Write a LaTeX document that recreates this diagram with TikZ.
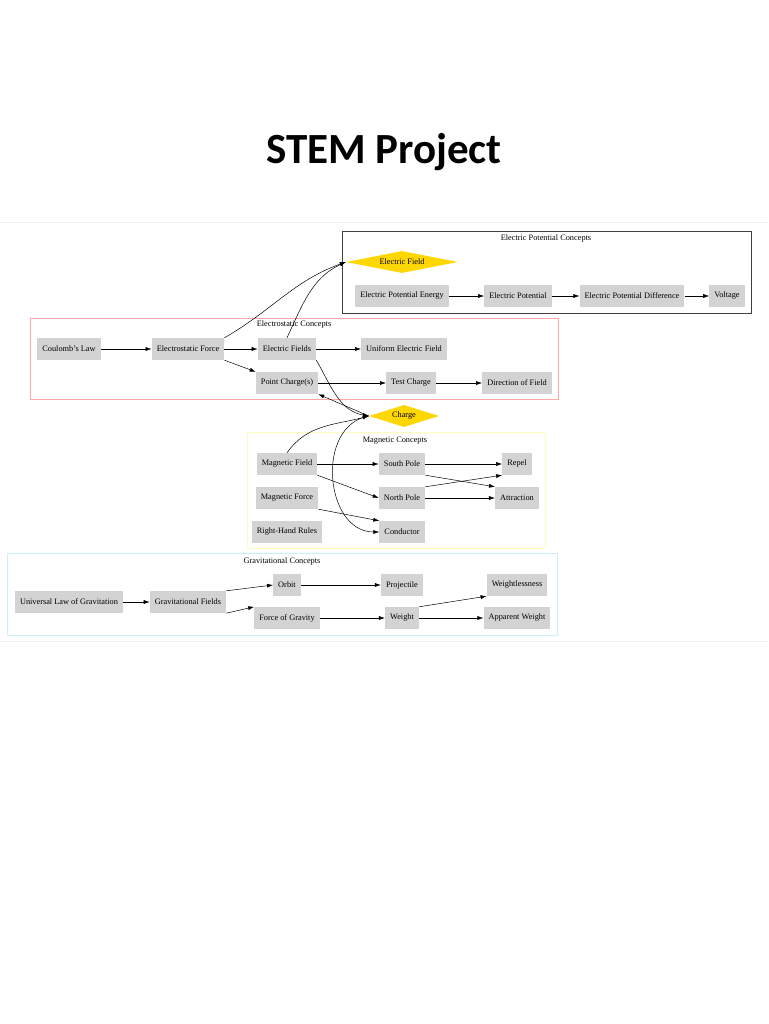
\documentclass[tikz,border=0pt]{standalone}
\usepackage{fontspec}
\setmainfont{Liberation Serif}
\newfontfamily\titlefont{Carlito}
\usetikzlibrary{shapes.geometric, arrows.meta, positioning}
\definecolor{conceptgray}{HTML}{D3D3D3}
\definecolor{keygold}{HTML}{FFD700}

\begin{document}
\begin{tikzpicture}[
  x=1pt, y=-1pt,
  concept/.style={
    rectangle,
    fill=conceptgray,
    minimum height=22pt,
    inner xsep=5pt,
    font=\fontsize{8.3}{9}\selectfont
  },
  key/.style={
    diamond,
    aspect=5,
    fill=keygold,
    inner sep=0.5pt,
    minimum height=22pt,
    font=\fontsize{8.3}{9}\selectfont
  },
  cluster/.style={draw=#1, line width=0.6pt},
  clabel/.style={font=\fontsize{8.3}{9}\selectfont},
  arrow/.style={-{Latex[length=6pt,width=4pt]}, line width=0.5pt}
]
  \useasboundingbox (0,0) rectangle (768,1024);
  \draw[black!6] (0,222) -- (768,222);
  \draw[black!6] (0,641) -- (768,641);
  \node[font=\titlefont\bfseries\fontsize{43}{46}\selectfont] (title) at (384,152) {STEM Project};

  % clusters
  \draw[cluster=black!75] (342,231) rectangle (751,313);
  \node[clabel] (lpot) at (546,239) {Electric Potential Concepts};
  \draw[cluster=red!35] (30,318) rectangle (558,399);
  \node[clabel] (lstat) at (294,325) {Electrostatic Concepts};
  \draw[cluster=yellow!25] (247,432) rectangle (545,548);
  \node[clabel] (lmag) at (395,441) {Magnetic Concepts};
  \draw[cluster=cyan!20] (7,553) rectangle (557,635);
  \node[clabel] (lgrav) at (282,561) {Gravitational Concepts};

  % electric potential
  \node[key, minimum width=112pt] (efield) at (402,262) {Electric Field};
  \node[concept] (epe) at (402,296) {Electric Potential Energy};
  \node[concept] (ep) at (518,296) {Electric Potential};
  \node[concept] (epd) at (632,296) {Electric Potential Difference};
  \node[concept] (volt) at (727,296) {Voltage};

  % electrostatics
  \node[concept] (coulomb) at (69,349) {Coulomb's Law};
  \node[concept] (esforce) at (188,349) {Electrostatic Force};
  \node[concept] (efields) at (287,349) {Electric Fields};
  \node[concept] (uniform) at (404,349) {Uniform Electric Field};
  \node[concept] (point) at (287,383) {Point Charge(s)};
  \node[concept] (test) at (411,383) {Test Charge};
  \node[concept] (dir) at (517,383) {Direction of Field};
  \node[key, minimum width=70pt] (charge) at (404,416) {Charge};

  % magnetism
  \node[concept] (mfield) at (287,464) {Magnetic Field};
  \node[concept] (south) at (402,464) {South Pole};
  \node[concept] (repel) at (517,464) {Repel};
  \node[concept] (mforce) at (287,498) {Magnetic Force};
  \node[concept] (north) at (402,498) {North Pole};
  \node[concept] (attr) at (517,498) {Attraction};
  \node[concept] (rhr) at (287,532) {Right-Hand Rules};
  \node[concept] (cond) at (402,532) {Conductor};

  % gravitation
  \node[concept] (ulg) at (69,602) {Universal Law of Gravitation};
  \node[concept] (gfields) at (188,602) {Gravitational Fields};
  \node[concept] (orbit) at (287,585) {Orbit};
  \node[concept] (proj) at (402,585) {Projectile};
  \node[concept] (wless) at (517,585) {Weightlessness};
  \node[concept] (fog) at (287,618) {Force of Gravity};
  \node[concept] (weight) at (402,618) {Weight};
  \node[concept] (appw) at (517,618) {Apparent Weight};

  \draw[arrow] (epe) -- (ep);
  \draw[arrow] (ep) -- (epd);
  \draw[arrow] (epd) -- (volt);

  \draw[arrow] (coulomb) -- (esforce);
  \draw[arrow] (esforce) -- (efields);
  \draw[arrow] (efields) -- (uniform);
  \draw[arrow] (esforce.south east) -- (point.north west);
  \draw[arrow] (point) -- (test);
  \draw[arrow] (test) -- (dir);
  \draw[arrow] (esforce.north east) to[out=30, in=200] (efield.west);
  \draw[arrow] (efields.north) to[out=65, in=205] (efield.west);
  \draw[arrow] (efields.south east) to[out=-60, in=170] (charge.west);
  \draw[arrow] (charge.west) -- (point.south east);

  \draw[arrow] (mfield.north) to[out=55, in=195] (charge.west);
  \draw[arrow] (charge.west) to[out=190, in=180, looseness=1.2] (cond.west);
  \draw[arrow] (mfield) -- (south);
  \draw[arrow] (mfield.south east) -- (north.west);
  \draw[arrow] (south) -- (repel);
  \draw[arrow] (south.south east) -- (attr.north west);
  \draw[arrow] (north.north east) -- (repel.south west);
  \draw[arrow] (north) -- (attr);
  \draw[arrow] (mforce.south east) -- (cond.north west);

  \draw[arrow] (ulg) -- (gfields);
  \draw[arrow] (gfields.north east) -- (orbit.west);
  \draw[arrow] (gfields.south east) -- (fog.north west);
  \draw[arrow] (orbit) -- (proj);
  \draw[arrow] (fog) -- (weight);
  \draw[arrow] (weight.north east) -- (wless.south west);
  \draw[arrow] (weight) -- (appw);
\end{tikzpicture}
\end{document}
